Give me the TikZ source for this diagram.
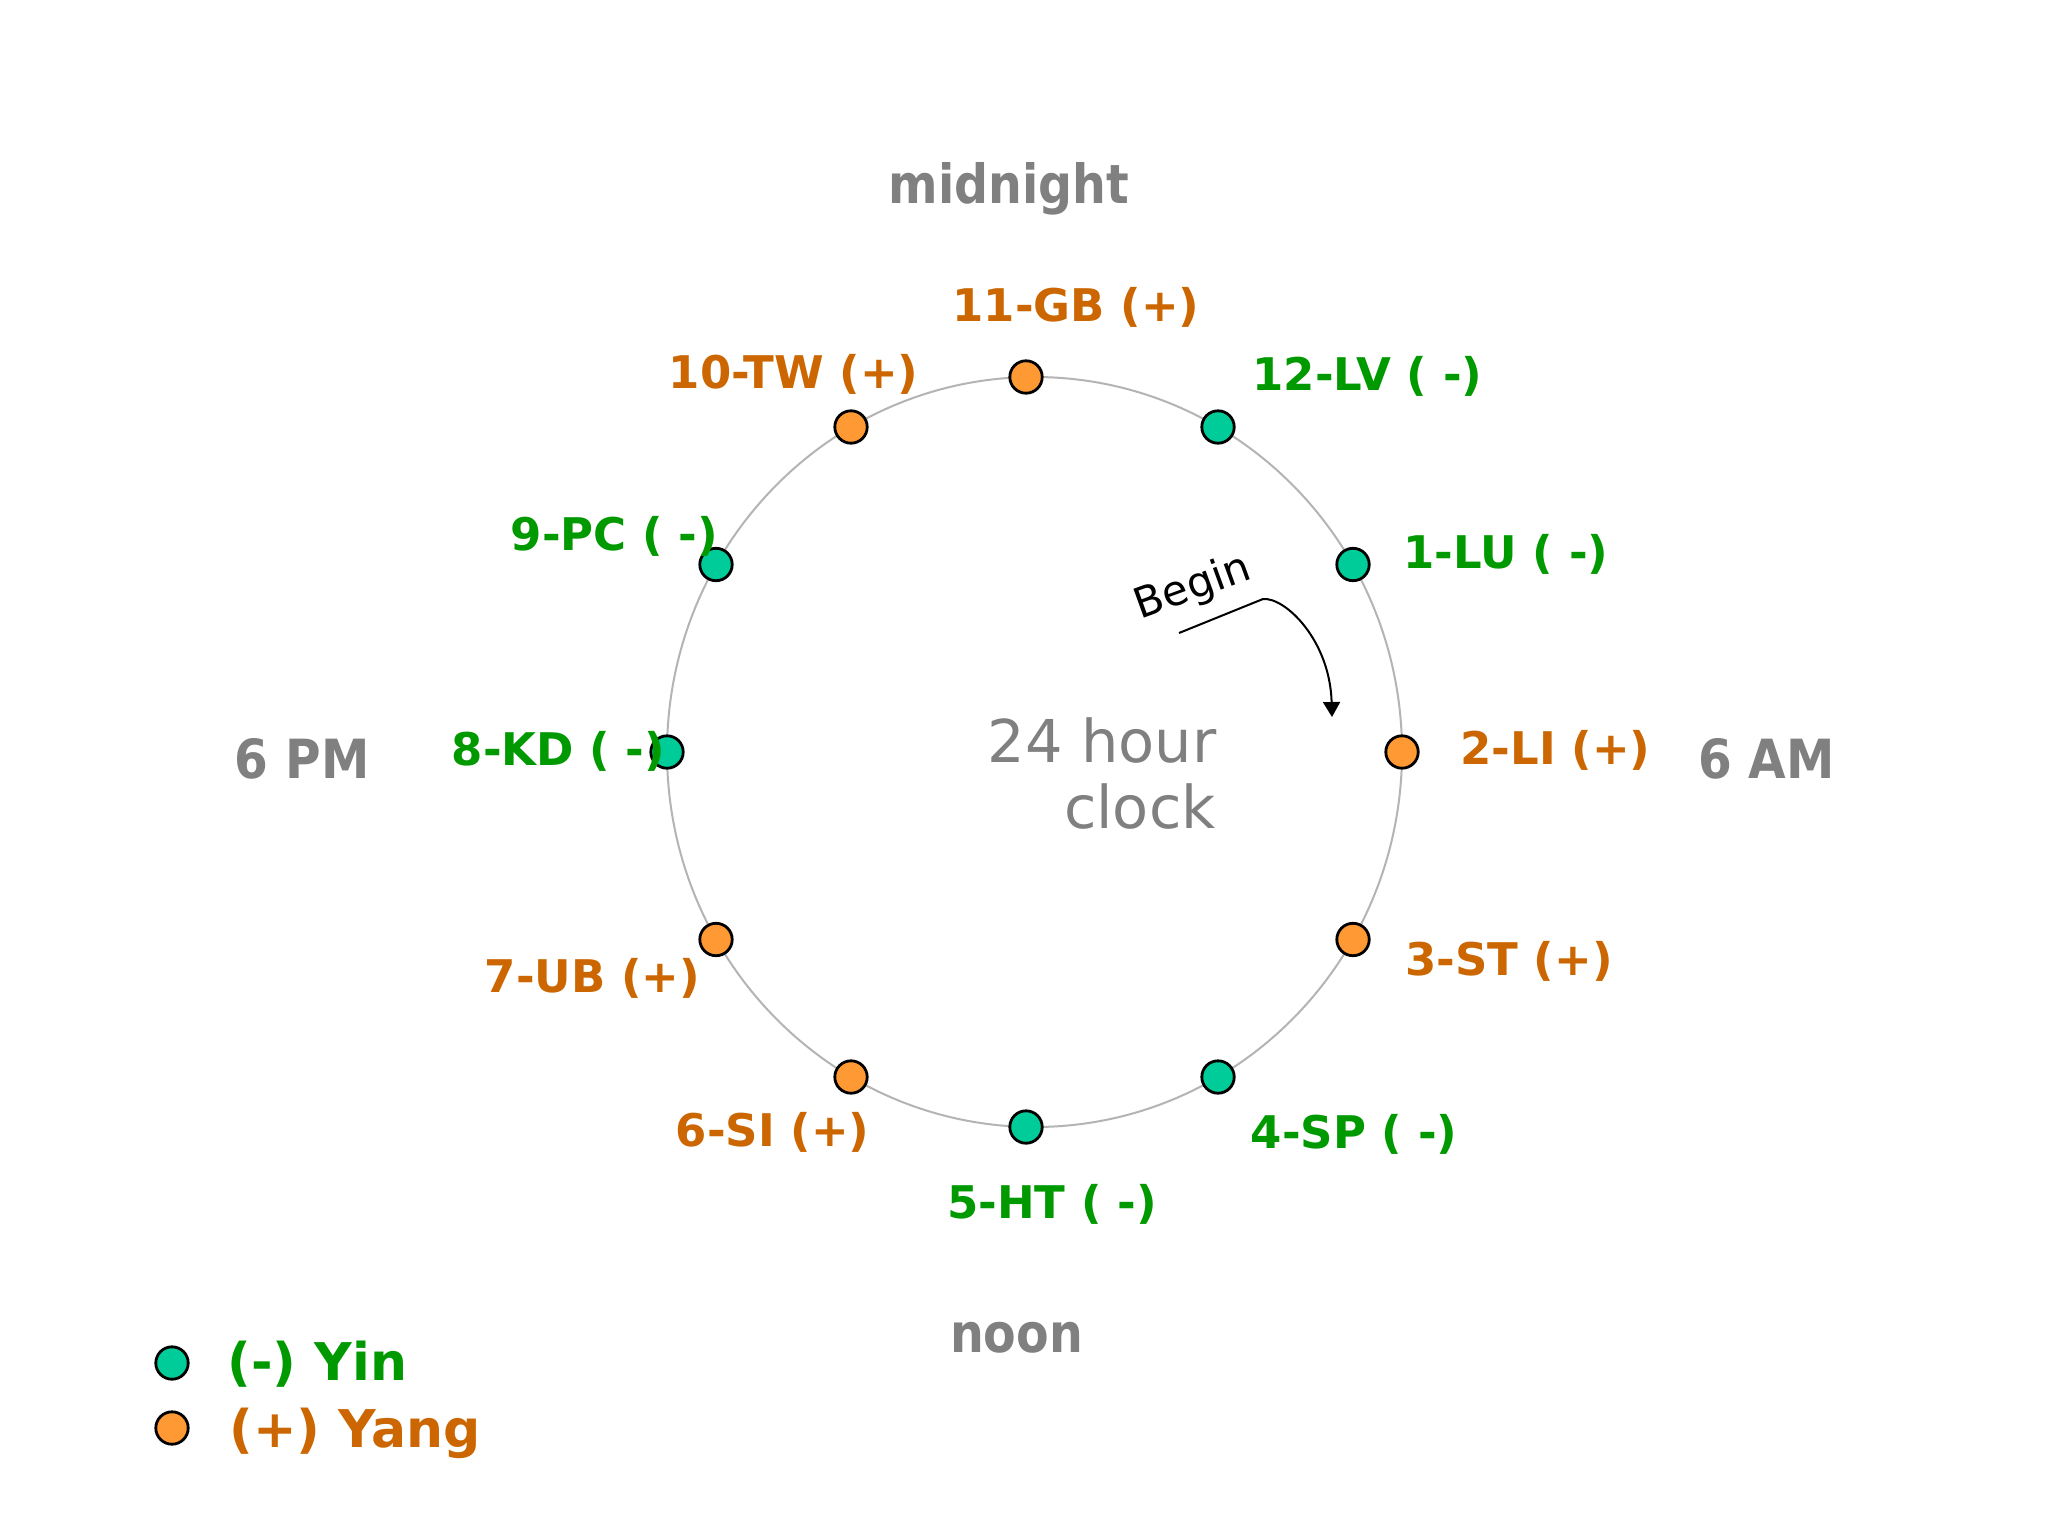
\documentclass[tikz,border=0pt]{standalone}
\usepackage{fontspec}
\setmainfont{DejaVu Sans}
\usetikzlibrary{arrows.meta}
\definecolor{yinfill}{HTML}{00CC99}
\definecolor{yangfill}{HTML}{FF9933}
\definecolor{yintext}{HTML}{009900}
\definecolor{yangtext}{HTML}{CC6600}
\definecolor{graytext}{HTML}{808080}
\definecolor{ringgray}{HTML}{B4B4B4}
\begin{document}
\begin{tikzpicture}[x=0.5pt,y=-0.5pt,
  dot/.style={circle,draw=black,line width=1.4pt,minimum size=16.2pt,inner sep=0pt},
  yin/.style={dot,fill=yinfill},
  yang/.style={dot,fill=yangfill},
  lab/.style={font=\fontsize{22.5}{27}\selectfont\bfseries,inner sep=0pt,anchor=base},
  yinlab/.style={lab,text=yintext},
  yanglab/.style={lab,text=yangtext},
  timelab/.style={font=\fontsize{27}{32}\selectfont\bfseries,text=graytext,inner sep=0pt,anchor=base},
  legtext/.style={font=\fontsize{26}{31}\selectfont\bfseries,inner sep=0pt,anchor=base west},
  centertext/.style={font=\fontsize{29.5}{35}\selectfont,text=graytext,inner sep=0pt,anchor=base east},
]
\useasboundingbox[fill=white] (0,0) rectangle (2048,1536);
% ring
\draw[ringgray,line width=1pt] (1034.5,752) ellipse [x radius=367.5, y radius=375];
% dots
\node[yang] (gb) at (1026,377) {};
\node[yin]  (lv) at (1218,427) {};
\node[yin]  (lu) at (1353,564.5) {};
\node[yang] (li) at (1402,752) {};
\node[yang] (st) at (1353,939.5) {};
\node[yin]  (sp) at (1218,1077) {};
\node[yin]  (ht) at (1026,1127) {};
\node[yang] (si) at (851,1077) {};
\node[yang] (ub) at (716,939.5) {};
\node[yin]  (kd) at (667,752) {};
\node[yin]  (pc) at (716,564.5) {};
\node[yang] (tw) at (851,427) {};
% labels
\node[yanglab] (lgb) at (1076,321) {11-GB (+)};
\node[yanglab] (ltw) at (793.5,388) {10-TW (+)};
\node[yinlab]  (llv) at (1367.5,390) {12-LV ( -)};
\node[yinlab]  (lpc) at (614.5,550) {9-PC ( -)};
\node[yinlab]  (llu) at (1506,568) {1-LU ( -)};
\node[yinlab]  (lkd) at (558.5,765) {8-KD ( -)};
\node[yanglab] (lli) at (1555.5,764) {2-LI (+)};
\node[yanglab] (lub) at (592.5,992) {7-UB (+)};
\node[yanglab] (lst) at (1509,975) {3-ST (+)};
\node[yanglab] (lsi) at (772.5,1146) {6-SI (+)};
\node[yinlab]  (lsp) at (1354,1148) {4-SP ( -)};
\node[yinlab]  (lht) at (1052,1218) {5-HT ( -)};
% time labels
\node[timelab] (mid) at (1009,203) {\scalebox{0.88}[1]{midnight}};
\node[timelab] (noon) at (1016.5,1352) {\scalebox{0.88}[1]{noon}};
\node[timelab] (pm) at (302,778) {\scalebox{0.9}[1]{6 PM}};
\node[timelab] (am) at (1766.5,778) {\scalebox{0.9}[1]{6 AM}};
% center
\node[centertext] (c1) at (1217,762) {24 hour};
\node[centertext] (c2) at (1216,828) {clock};
% begin
\node[font=\fontsize{21}{25}\selectfont,rotate=20,anchor=base,inner sep=0pt] (begin) at (1197,599) {Begin};
\coordinate (b0) at (1179,633);
\coordinate (b1) at (1263,599);
\coordinate (b2) at (1332,717);
\draw[line width=1pt,-{Triangle[length=7.5pt,width=8.5pt]}] (b0) -- (b1) .. controls (1285,597) and (1330,640) .. (b2);
% legend
\node[yin]  (ly) at (172,1363) {};
\node[yang] (lg) at (172,1428) {};
\node[legtext,text=yintext]  (tyin)  at (227,1380) {(-) Yin};
\node[legtext,text=yangtext] (tyang) at (229,1447) {(+) Yang};
\end{tikzpicture}
\end{document}
